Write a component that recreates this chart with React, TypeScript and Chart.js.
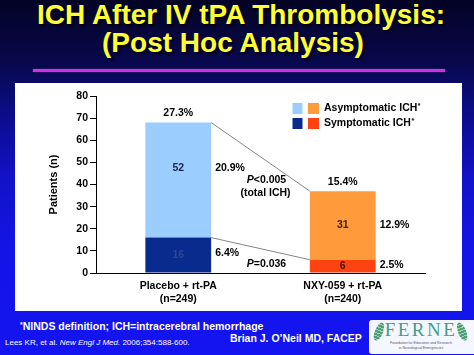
import React, { useEffect, useRef } from "react";
import { Chart, registerables } from "chart.js";

Chart.register(...registerables);

const categories = [["Placebo + rt-PA", "(n=249)"], ["NXY-059 + rt-PA", "(n=240)"]];
const symptomatic = [16, 6];
const asymptomatic = [52, 31];
const totalPct = ["27.3%", "15.4%"];
const asymPct = ["20.9%", "12.9%"];
const symPct = ["6.4%", "2.5%"];
const legendLabels = ["Asymptomatic ICH", "Symptomatic ICH"];
const pTexts = ["<0.005", "(total ICH)", "=0.036"];
const pAnchors = [42, 36, 4];
const yMin = 0;
const yMax = 80;
const yStep = 10;

const symColors = ["#0a2b8e", "#ff4212"];
const asymColors = ["#9ccdff", "#ff9b3a"];
const symText = ["#33458a", "#4a1200"];
const asymText = ["#1a2550", "#3a1c00"];
const FAMILY = '"Liberation Sans", Arial, Helvetica, sans-serif';

const annotPlugin = {
  id: "annot",
  afterDatasetsDraw(chart: any) {
    const ctx = chart.ctx;
    const ys = chart.scales.y;
    const sym = chart.getDatasetMeta(0).data;
    const asy = chart.getDatasetMeta(1).data;
    const bold = `bold 10.5px ${FAMILY}`;
    const boldIt = `italic bold 10.5px ${FAMILY}`;
    ctx.save();
    const r0 = asy[0].x + asy[0].width / 2;
    const l1 = asy[1].x - asy[1].width / 2;
    ctx.strokeStyle = "#858585";
    ctx.lineWidth = 1;
    ctx.beginPath();
    ctx.moveTo(r0, asy[0].y);
    ctx.lineTo(l1, asy[1].y);
    ctx.moveTo(r0, sym[0].y);
    ctx.lineTo(l1, sym[1].y);
    ctx.stroke();

    ctx.font = bold;
    ctx.textBaseline = "middle";
    const shift = [-12, 0];
    for (let i = 0; i < 2; i++) {
      const a = asy[i];
      const s = sym[i];
      const right = a.x + a.width / 2;
      ctx.fillStyle = "#000";
      ctx.textAlign = "center";
      ctx.fillText(totalPct[i], a.x, a.y - 9);
      const am = (a.y + a.base) / 2 + shift[i];
      ctx.fillStyle = asymText[i];
      ctx.fillText(String(asymptomatic[i]), a.x, am);
      const sm = (s.y + s.base) / 2;
      ctx.fillStyle = symText[i];
      ctx.fillText(String(symptomatic[i]), s.x, sm);
      ctx.fillStyle = "#000";
      ctx.textAlign = "left";
      ctx.fillText(asymPct[i], right + 4, am);
      ctx.fillText(symPct[i], right + 4, sm - 1.5);
    }

    const cx = (r0 + l1) / 2 + 6;
    ctx.fillStyle = "#000";
    ctx.textAlign = "left";
    const drawP = (rest: string, y: number) => {
      ctx.font = boldIt;
      const wp = ctx.measureText("P").width;
      ctx.font = bold;
      const wr = ctx.measureText(rest).width;
      const x0 = cx - (wp + wr) / 2;
      ctx.font = boldIt;
      ctx.fillText("P", x0, y);
      ctx.font = bold;
      ctx.fillText(rest, x0 + wp, y);
    };
    drawP(pTexts[0], ys.getPixelForValue(pAnchors[0]));
    ctx.textAlign = "center";
    ctx.fillText(pTexts[1], cx - 1, ys.getPixelForValue(pAnchors[1]));
    ctx.textAlign = "left";
    drawP(pTexts[2], ys.getPixelForValue(pAnchors[2]));

    const lx = chart.chartArea.right - 132.5;
    const rows = [
      { c: [asymColors[0], asymColors[1]], t: legendLabels[0], top: 20 },
      { c: [symColors[0], symColors[1]], t: legendLabels[1], top: 35 },
    ];
    for (const r of rows) {
      ctx.fillStyle = r.c[0];
      ctx.fillRect(lx, r.top, 10, 11);
      ctx.fillStyle = r.c[1];
      ctx.fillRect(lx + 15.5, r.top, 11, 11);
      ctx.fillStyle = "#000";
      ctx.font = bold;
      ctx.textAlign = "left";
      ctx.fillText(r.t, lx + 31.5, r.top + 5.5);
      const w = ctx.measureText(r.t).width;
      ctx.font = `bold 7px ${FAMILY}`;
      ctx.fillText("*", lx + 31.5 + w + 0.5, r.top + 3);
    }
    ctx.restore();
  },
};

function ChartPanel() {
  const ref = useRef<HTMLCanvasElement | null>(null);
  useEffect(() => {
    if (!ref.current) return;
    const font = { family: FAMILY, size: 10.5, weight: "bold" as const };
    const chart = new Chart(ref.current, {
      type: "bar",
      data: {
        labels: categories,
        datasets: [
          {
            label: "Symptomatic ICH*",
            data: symptomatic,
            backgroundColor: symColors,
            barPercentage: 0.4,
            categoryPercentage: 1,
          },
          {
            label: "Asymptomatic ICH*",
            data: asymptomatic,
            backgroundColor: asymColors,
            barPercentage: 0.4,
            categoryPercentage: 1,
          },
        ],
      },
      options: {
        animation: false,
        responsive: false,
        devicePixelRatio: 1,
        layout: { padding: { left: 28, right: 37, top: 13, bottom: 0 } },
        plugins: { legend: { display: false }, tooltip: { enabled: false } },
        scales: {
          x: {
            stacked: true,
            grid: { display: false, drawTicks: false },
            border: { display: true, color: "#000", width: 1 },
            ticks: { color: "#000", font, padding: 7 },
            afterFit: (s: any) => {
              s.height = 38;
            },
          },
          y: {
            stacked: true,
            min: yMin,
            max: yMax,
            ticks: { stepSize: yStep, color: "#000", font, padding: 2 },
            grid: { drawOnChartArea: false, drawTicks: true, tickLength: 6, color: "#000" },
            border: { display: true, color: "#000", width: 1 },
            title: {
              display: true,
              text: "Patients (n)",
              color: "#000",
              font: { family: FAMILY, size: 11, weight: "bold" },
              padding: { top: 4, bottom: 4 },
            },
            afterFit: (s: any) => {
              s.width = 53;
            },
          },
        },
      },
      plugins: [annotPlugin],
    } as any);
    return () => chart.destroy();
  }, []);
  return <canvas ref={ref} width={447} height={228} style={{ display: "block", width: 447, height: 228 }} />;
}

function Fern({ left, flip }: { left: number; flip?: boolean }) {
  return (
    <div
      style={{
        position: "absolute",
        left,
        top: 2,
        width: 8,
        height: 19,
        borderRadius: "50% 50% 45% 45%",
        background:
          "repeating-linear-gradient(180deg, #4f9e78 0px, #4f9e78 2px, #9fd0b0 2px, #9fd0b0 3px)",
        transform: `rotate(${flip ? -22 : 22}deg)`,
      }}
    />
  );
}

export default function App() {
  const titleStyle: React.CSSProperties = {
    position: "absolute",
    top: 1,
    fontFamily: FAMILY,
    fontWeight: "bold",
    fontSize: 28,
    lineHeight: "28px",
    color: "#ffff33",
    textAlign: "center",
    whiteSpace: "nowrap",
    textShadow: "2px 2px 2px rgba(0,0,0,0.85)",
  };
  return (
    <div
      style={{
        position: "fixed",
        left: 0,
        top: 0,
        width: 474,
        height: 355,
        overflow: "hidden",
        fontFamily: FAMILY,
        background:
          "linear-gradient(to bottom, #030325 0%, #08084e 18%, #0c0c8a 32%, #1212c8 50%, #1414e6 70%, #1414f2 100%)",
      }}
    >
      <div style={{ ...titleStyle, left: 0, width: 482 }}>ICH After IV tPA Thrombolysis:</div>
      <div style={{ ...titleStyle, top: 29, left: 0, width: 466 }}>(Post Hoc Analysis)</div>
      <div
        style={{
          position: "absolute",
          left: 33,
          top: 68.5,
          width: 412,
          height: 3,
          background: "#cc33dd",
          boxShadow: "0 0 1px #ff66ff",
        }}
      />
      <div style={{ position: "absolute", left: 15, top: 83, width: 447, height: 228, background: "#fff" }}>
        <ChartPanel />
      </div>
      <div
        style={{
          position: "absolute",
          left: 20,
          top: 318,
          color: "#fff",
          fontWeight: "bold",
          fontSize: 10.5,
          lineHeight: "14px",
          whiteSpace: "nowrap",
        }}
      >
        <span style={{ fontSize: 7, verticalAlign: 3 }}>*</span>NINDS definition; ICH=intracerebral hemorrhage
      </div>
      <div
        style={{
          position: "absolute",
          left: 5,
          top: 337,
          color: "#fff",
          fontSize: 8,
          lineHeight: "11px",
          whiteSpace: "nowrap",
        }}
      >
        Lees KR, et al. <i>New Engl J Med.</i> 2006;354:588-600.
      </div>
      <div
        style={{
          position: "absolute",
          left: 230,
          top: 331,
          color: "#fff",
          fontWeight: "bold",
          fontSize: 10.5,
          lineHeight: "14px",
          whiteSpace: "nowrap",
        }}
      >
        Brian J. O’Neil MD, FACEP
      </div>
      <div
        style={{
          position: "absolute",
          left: 369,
          top: 320,
          width: 108,
          height: 34,
          background: "#f4f7ff",
          borderRadius: 3,
          overflow: "hidden",
        }}
      >
        <Fern left={6} />
        <Fern left={89} flip />
        <div
          style={{
            position: "absolute",
            left: 15,
            top: -1,
            width: 74,
            textAlign: "center",
            fontFamily: '"Liberation Serif", "DejaVu Serif", serif',
            fontSize: 19,
            lineHeight: "22px",
            letterSpacing: 2.5,
            color: "#4a9a8a",
            whiteSpace: "nowrap",
          }}
        >
          FERNE
        </div>
        <div
          style={{
            position: "absolute",
            left: 12,
            top: 21,
            width: 80,
            textAlign: "center",
            fontSize: 3.5,
            lineHeight: "5px",
            color: "#556",
            whiteSpace: "nowrap",
          }}
        >
          Foundation for Education and Research
          <br />
          in Neurological Emergencies
        </div>
      </div>
    </div>
  );
}
